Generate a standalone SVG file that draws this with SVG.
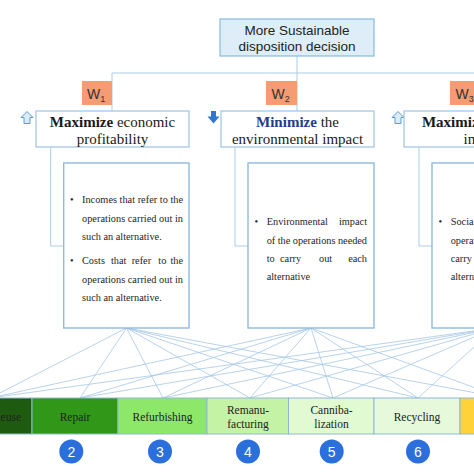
<svg xmlns="http://www.w3.org/2000/svg" width="474" height="474" viewBox="0 0 474 474">
  <style>
    .conn { fill: none; stroke: #a9cbe8; stroke-width: 1; }
    .fan { fill: none; stroke: #a6c8e6; stroke-width: 0.8; }
    .goal { fill: #ffffff; stroke: #9cc3e5; stroke-width: 1.2; }
    .detail { fill: #ffffff; stroke: #8fbadf; stroke-width: 1.4; }
    .sans { font-family: "Liberation Sans", Arial, sans-serif; }
    .serif { font-family: "Liberation Serif", "Times New Roman", serif; }
    .goaltxt { font-size: 15px; fill: #1a1a1a; text-anchor: middle; }
    .body { font-size: 10.3px; fill: #262626; }
    .end { text-anchor: end; }
    .weight { fill: #f59c73; }
    .wtxt { font-size: 14px; fill: #333333; }
    .alt { stroke: #8fb8d6; stroke-width: 1; }
    .alttxt { font-size: 11.5px; text-anchor: middle; fill: #222222; }
    .num { fill: #2b6fdc; }
    .numtxt { font-size: 14px; fill: #ffffff; text-anchor: middle; }
    .uparrow { fill: #dcebf8; stroke: #5b9bd5; stroke-width: 1; }
    .downarrow { fill: #2f74d6; }
  </style>

  <rect width="474" height="474" fill="#ffffff"/>

  <!-- connectors -->
  <g id="connectors">
    <path class="conn" d="M297 56 V111"/>
    <path class="conn" d="M112 73 H474"/>
    <path class="conn" d="M112 73 V111"/>
    <path class="conn" d="M481 73 V111"/>
    <path class="conn" d="M50.7 147 V246 H63.7"/>
    <path class="conn" d="M235 147 V246 H248"/>
    <path class="conn" d="M419 147 V246 H432"/>
    <!-- every criterion detail feeds every alternative -->
    <g class="fan">
      <path d="M126.5 328 L-10 398 M126.5 328 L80 398 M126.5 328 L163 398 M126.5 328 L250 398 M126.5 328 L333 398 M126.5 328 L418 398 M126.5 328 L503 398"/>
      <path d="M311 328 L-10 398 M311 328 L80 398 M311 328 L163 398 M311 328 L250 398 M311 328 L333 398 M311 328 L418 398 M311 328 L503 398"/>
      <path d="M495 328 L-10 398 M495 328 L80 398 M495 328 L163 398 M495 328 L250 398 M495 328 L333 398 M495 328 L418 398 M495 328 L503 398"/>
    </g>
  </g>

  <!-- goal -->
  <g id="goal">
    <rect x="220" y="19" width="154" height="37" fill="#ddeef9" stroke="#86bbdf" stroke-width="1.2"/>
    <text class="sans" x="297" y="34.5" font-size="13.5" fill="#222222" text-anchor="middle">More Sustainable</text>
    <text class="sans" x="297" y="51" font-size="13.5" fill="#222222" text-anchor="middle">disposition decision</text>
  </g>

  <!-- criterion 1: economic -->
  <g id="criterion-economic">
    <rect class="weight" x="82" y="81" width="30" height="24"/>
    <text class="sans wtxt" x="87" y="98.5">W<tspan font-size="9" dy="3">1</tspan></text>
    <path class="uparrow" d="M27 111.5 L33 117.5 H30 V123.5 H24 V117.5 H21 Z"/>
    <rect class="goal" x="36" y="111" width="153" height="36"/>
    <text class="serif goaltxt" x="112.5" y="127"><tspan font-weight="bold">Maximize</tspan> economic</text>
    <text class="serif goaltxt" x="112.5" y="143.5">profitability</text>
  </g>
  <g id="detail-economic">
    <rect class="detail" x="63.7" y="163" width="125.3" height="165"/>
    <g class="serif body">
      <text x="70" y="203">•</text>
      <text x="82" y="203" textLength="101" lengthAdjust="spacing">Incomes that refer to the</text>
      <text x="82" y="221.5" textLength="101" lengthAdjust="spacing">operations carried out in</text>
      <text x="82" y="240">such an alternative.</text>
      <text x="70" y="264">•</text>
      <text x="82" y="264">Costs</text>
      <text x="111" y="264">that</text>
      <text x="131.7" y="264">refer</text>
      <text x="158.3" y="264">to</text>
      <text class="end" x="183" y="264">the</text>
      <text x="82" y="282.5" textLength="101" lengthAdjust="spacing">operations carried out in</text>
      <text x="82" y="301">such an alternative.</text>
    </g>
  </g>

  <!-- criterion 2: environmental -->
  <g id="criterion-environmental">
    <rect class="weight" x="266" y="81" width="31" height="24"/>
    <text class="sans wtxt" x="271.5" y="98.5">W<tspan font-size="9" dy="3">2</tspan></text>
    <path class="downarrow" d="M211 111 H216 V116.5 H219.5 L213.5 123.5 L207.5 116.5 H211 Z"/>
    <rect class="goal" x="221" y="111" width="153" height="36"/>
    <text class="serif goaltxt" x="297.5" y="127"><tspan font-weight="bold" fill="#1f3b8e">Minimize</tspan> the</text>
    <text class="serif goaltxt" x="297.5" y="143.5">environmental impact</text>
  </g>
  <g id="detail-environmental">
    <rect class="detail" x="248" y="163" width="126" height="165"/>
    <g class="serif body">
      <text x="254.5" y="225">•</text>
      <text x="266.7" y="225">Environmental</text>
      <text class="end" x="367" y="225">impact</text>
      <text x="266.7" y="243.5" textLength="100.3" lengthAdjust="spacing">of the operations needed</text>
      <text x="266.7" y="262">to</text>
      <text x="280" y="262">carry</text>
      <text x="319" y="262">out</text>
      <text class="end" x="367" y="262">each</text>
      <text x="266.7" y="280">alternative</text>
    </g>
  </g>

  <!-- criterion 3: social -->
  <g id="criterion-social">
    <rect class="weight" x="450" y="81" width="31" height="24"/>
    <text class="sans wtxt" x="455.5" y="98.5">W<tspan font-size="9" dy="3">3</tspan></text>
    <path class="uparrow" d="M398 111.5 L404 117.5 H401 V123.5 H395 V117.5 H392 Z"/>
    <rect class="goal" x="404" y="111" width="153" height="36"/>
    <text class="serif goaltxt" x="484" y="127"><tspan font-weight="bold">Maximize</tspan> the social</text>
    <text class="serif goaltxt" x="484" y="143.5">impact</text>
  </g>
  <g id="detail-social">
    <rect class="detail" x="432" y="163" width="126" height="165"/>
    <g class="serif body">
      <text x="438.5" y="225">•</text>
      <text x="450.7" y="225">Social impact of the</text>
      <text x="450.7" y="243.5">operations needed to</text>
      <text x="450.7" y="262">carry out each</text>
      <text x="450.7" y="280">alternative</text>
    </g>
  </g>

  <!-- alternatives -->
  <g id="alt-reuse">
    <rect class="alt" x="-50" y="398" width="82" height="36" fill="#1e5b10"/>
    <text class="serif alttxt" x="7" y="421" fill="#e6efd6">Reuse</text>
  </g>
  <g id="alt-repair">
    <rect class="alt" x="32" y="398" width="86" height="36" fill="#319719"/>
    <text class="serif alttxt" x="75" y="421" fill="#173a0a">Repair</text>
    <circle class="num" cx="71.3" cy="451.5" r="12"/>
    <text class="sans numtxt" x="71.3" y="456.5">2</text>
  </g>
  <g id="alt-refurbishing">
    <rect class="alt" x="118" y="398" width="89" height="36" fill="#8de86a"/>
    <text class="serif alttxt" x="162.5" y="421">Refurbishing</text>
    <circle class="num" cx="160" cy="451.5" r="12"/>
    <text class="sans numtxt" x="160" y="456.5">3</text>
  </g>
  <g id="alt-remanufacturing">
    <rect class="alt" x="207" y="398" width="81.5" height="36" fill="#c4f3a6"/>
    <text class="serif alttxt" x="248" y="414">Remanu-</text>
    <text class="serif alttxt" x="248" y="427.5">facturing</text>
    <circle class="num" cx="248" cy="451.5" r="12"/>
    <text class="sans numtxt" x="248" y="456.5">4</text>
  </g>
  <g id="alt-cannibalization">
    <rect class="alt" x="288.5" y="398" width="85.5" height="36" fill="#e1fad1"/>
    <text class="serif alttxt" x="331.5" y="414">Canniba-</text>
    <text class="serif alttxt" x="331.5" y="427.5">lization</text>
    <circle class="num" cx="331.7" cy="451.5" r="12"/>
    <text class="sans numtxt" x="331.7" y="456.5">5</text>
  </g>
  <g id="alt-recycling">
    <rect class="alt" x="374" y="398" width="86" height="36" fill="#e6f9da"/>
    <text class="serif alttxt" x="417" y="421">Recycling</text>
    <circle class="num" cx="418" cy="451.5" r="12"/>
    <text class="sans numtxt" x="418" y="456.5">6</text>
  </g>
  <g id="alt-next">
    <rect class="alt" x="460" y="398" width="60" height="36" fill="#ffd23a"/>
  </g>
</svg>
